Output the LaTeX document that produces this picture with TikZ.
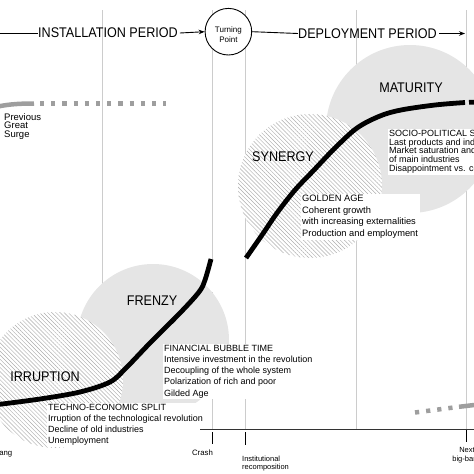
\documentclass[tikz,border=0pt]{standalone}
\usepackage{fontspec}
\setmainfont{Liberation Sans}
\usetikzlibrary{patterns.meta,arrows.meta}
\definecolor{vline}{gray}{0.8}
\definecolor{bubble}{gray}{0.9}
\definecolor{hatchc}{gray}{0.68}
\definecolor{surge}{gray}{0.62}
\begin{document}
\begin{tikzpicture}[x=1pt,y=-1pt,
  vl/.style={draw=vline,line width=0.9pt},
  bub/.style={fill=bubble},
  hat/.style={preaction={fill=white},pattern={Lines[angle=-45,distance=2.9pt,line width=0.45pt]},pattern color=hatchc},
  txt/.style={font=\fontsize{9}{11.2}\selectfont,align=left,inner sep=1.5pt,fill=white,anchor=north west},
  stage/.style={font=\fontsize{14}{14}\selectfont,inner sep=0pt},
  head/.style={font=\fontsize{14}{14}\selectfont,inner sep=0pt},
  small/.style={font=\fontsize{7.8}{8.6}\selectfont,inner sep=0pt},
  curve/.style={line width=4.8pt,black},
  surgedots/.style={draw=surge,line width=4.5pt,dash pattern=on 4.2pt off 7pt},
  arr/.style={-{Stealth[length=6pt,width=4.5pt]},line width=0.9pt},
  tick/.style={line width=1pt}]
\useasboundingbox (0,0) rectangle (474,474);
\clip (0,0) rectangle (474,474);
% vertical guide lines
\draw[vl] (102,10) -- (102,429);
\draw[vl] (212,10) -- (212,259);
\draw[vl] (212,292) -- (212,429);
\draw[vl] (245,10) -- (245,429);
\draw[vl] (356,10) -- (356,429);
\draw[vl] (466,10) -- (466,429);
% bubbles
\fill[bub] (153,340) circle (76);
\fill[bub] (410,129) circle (84);
\path[hat] (55,380) circle (68);
\path[hat] (310,186) circle (72);
% stage labels
\node[stage] (irruption) at (45,377) {\scalebox{0.9}[1]{IRRUPTION}};
\node[stage] (frenzy) at (152,301) {\scalebox{0.9}[1]{FRENZY}};
\node[stage] (synergy) at (283,157) {\scalebox{0.9}[1]{SYNERGY}};
\node[stage] (maturity) at (411,88) {\scalebox{0.9}[1]{MATURITY}};
% text blocks
\node[txt] (techno) at (46.5,402.3) {TECHNO-ECONOMIC SPLIT\\Irruption of the technological revolution\\Decline of old industries\\Unemployment};
\node[txt] (financial) at (162.5,343.3) {FINANCIAL BUBBLE TIME\\Intensive investment in the revolution\\Decoupling of the whole system\\Polarization of rich and poor\\Gilded Age};
\node[txt,font=\fontsize{9.3}{11.7}\selectfont] (golden) at (300.5,193.3) {GOLDEN AGE\\Coherent growth\\with increasing externalities\\Production and employment};
\node[txt,font=\fontsize{9}{8.8}\selectfont] (socio) at (387.5,128.3) {SOCIO-POLITICAL SPLIT\\Last products and industries\\Market saturation and technological maturity\\of main industries\\Disappointment vs. complacency};
% main curves
\draw[curve] plot[smooth,tension=0.55] coordinates {(-2,404.5) (40,399) (80,392) (110,382) (126,368) (150,343) (180,313) (199,292) (205,280) (211,259)};
\draw[curve] plot[smooth,tension=0.55] coordinates {(246,258) (262,235) (277,213) (295,190) (314,170) (335,148) (357,128) (380,116) (401,110) (435,105) (465,102.5)};
\draw[curve] (469,102.3) -- (476,102.2);
% previous and next surges
\draw[draw=surge,line width=4.5pt] (-2,106.5) .. controls (10,104) and (22,103.5) .. (34,103.5);
\draw[surgedots] (40,103.5) -- (166,103.5);
\node[small,font=\fontsize{9.5}{8.5}\selectfont,align=left,anchor=north west] (prev) at (4,113.2) {Previous\\Great\\Surge};
\draw[surgedots] (415,412.5) -- (459,406.8);
\draw[draw=surge,line width=4.5pt] (459,406.8) -- (476,404.8);
% header
\node[draw,circle,fill=white,line width=0.9pt,minimum size=46.6pt,inner sep=0pt] (turning) at (228.4,31.7) {};
\node[font=\fontsize{8}{10}\selectfont,align=center,inner sep=0pt] (tptext) at (228.4,35) {Turning\\Point};
\node[head] (install) at (108,33) {\scalebox{0.9}[1]{INSTALLATION PERIOD}};
\node[head] (deploy) at (367.5,33.5) {\scalebox{0.9}[1]{DEPLOYMENT PERIOD}};
\coordinate (hl) at (0,33);
\coordinate (hr) at (465,33.5);
\draw[line width=0.9pt] (hl) -- (install.west);
\draw[arr] (install.east) ++(2,0) -- (turning.west);
\draw[line width=0.9pt] (turning.east) -- (deploy.west);
\draw[arr] (deploy.east) ++(2,0) -- (hr);
% time axis
\coordinate (ax0) at (200,429);
\coordinate (ax1) at (476,429);
\draw[line width=1pt,black!80] (ax0) -- (ax1);
\draw[tick] (212,432) -- (212,444);
\draw[tick] (245,432) -- (245,445);
\draw[tick] (466,430) -- (466,442);
\node[small,anchor=base] (crash) at (202.5,455) {Crash};
\node[small,anchor=base east] (bigbang) at (12.5,455) {Big-bang};
\node[small,font=\fontsize{7.5}{8.5}\selectfont,align=left,anchor=north west] (inst) at (242,455.5) {Institutional\\recomposition};
\node[small,font=\fontsize{7.5}{9.5}\selectfont,align=center,anchor=north] (next) at (467,447) {Next\\big-bang};
\end{tikzpicture}
\end{document}
